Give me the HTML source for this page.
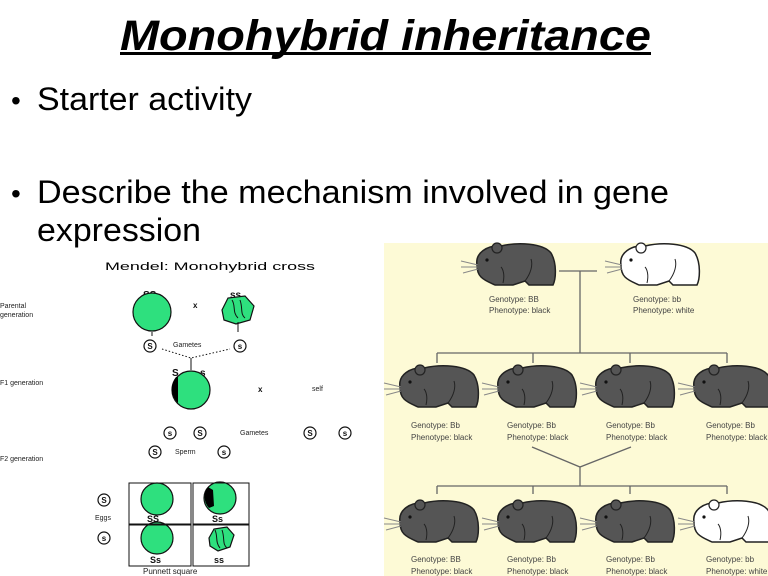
<!DOCTYPE html>
<html><head><meta charset="utf-8"><style>
html,body{margin:0;padding:0;background:#fff;}
svg{display:block;}
</style></head><body>
<svg width="768" height="576" viewBox="0 0 768 576" xmlns="http://www.w3.org/2000/svg" font-family="Liberation Sans, sans-serif">
<defs>
<g id="pig">
<path d="M4,22 C2,10 14,2 28,3 C45,-1 70,0 78,10 C84,20 83,36 80,42 L56,42 L52,38 L40,42 L22,42 C18,40 12,38 8,34 C5,31 4,27 4,22 Z" stroke="#222" stroke-width="1.5"/>
<circle cx="24" cy="5" r="5" stroke="#222" stroke-width="1.2"/>
<circle cx="14" cy="17" r="1.6" fill="#111"/>
<path d="M52,38 C58,30 60,22 58,16 M30,40 C32,32 30,26 28,24" stroke="#222" fill="none" stroke-width="1"/>
<path d="M5,22 L-12,18 M5,24 L-12,24 M5,26 L-10,30" stroke="#888" stroke-width="1" fill="none"/>
</g>
</defs>
<!-- Title -->
<text x="120" y="50" font-size="43" font-weight="bold" font-style="italic" font-family="Liberation Sans Narrow, Liberation Sans, sans-serif" textLength="531" lengthAdjust="spacingAndGlyphs">Monohybrid inheritance</text>
<rect x="120" y="52" width="531" height="3" fill="#000"/>
<text x="11" y="110" font-size="28">•</text>
<text x="37" y="110" font-size="32" font-family="Liberation Sans Narrow, Liberation Sans, sans-serif" textLength="215" lengthAdjust="spacingAndGlyphs">Starter activity</text>
<text x="11" y="203" font-size="28">•</text>
<text x="37" y="203" font-size="32" font-family="Liberation Sans Narrow, Liberation Sans, sans-serif" textLength="632" lengthAdjust="spacingAndGlyphs">Describe the mechanism involved in gene</text>
<text x="37" y="241" font-size="32" font-family="Liberation Sans Narrow, Liberation Sans, sans-serif" textLength="164" lengthAdjust="spacingAndGlyphs">expression</text>

<!-- Right panel -->
<rect x="384" y="243" width="384" height="333" fill="#fdfad6"/>
<g stroke="#666" stroke-width="1.3" fill="none">
<path d="M559,271 H597 M580,271 V353 M437,353 H727 M437,353 V363 M533,353 V363 M630,353 V363 M727,353 V363"/>
<path d="M532,447 L580,467 L631,447 M580,467 V486 M437,486 H727 M437,486 V494 M533,486 V494 M630,486 V494 M727,486 V494"/>
</g>
<g fill="#555">
<use href="#pig" transform="translate(473,243)"/>
<use href="#pig" transform="translate(396,365)"/>
<use href="#pig" transform="translate(494,365)"/>
<use href="#pig" transform="translate(592,365)"/>
<use href="#pig" transform="translate(690,365)"/>
<use href="#pig" transform="translate(396,500)"/>
<use href="#pig" transform="translate(494,500)"/>
<use href="#pig" transform="translate(592,500)"/>
</g>
<g fill="#fff">
<use href="#pig" transform="translate(617,243)"/>
<use href="#pig" transform="translate(690,500)"/>
</g>
<g font-size="8" fill="#444">
<text x="489" y="302">Genotype: BB</text><text x="489" y="313">Phenotype: black</text>
<text x="633" y="302">Genotype: bb</text><text x="633" y="313">Phenotype: white</text>
<text x="411" y="428">Genotype: Bb</text><text x="411" y="440">Phenotype: black</text>
<text x="507" y="428">Genotype: Bb</text><text x="507" y="440">Phenotype: black</text>
<text x="606" y="428">Genotype: Bb</text><text x="606" y="440">Phenotype: black</text>
<text x="706" y="428">Genotype: Bb</text><text x="706" y="440">Phenotype: black</text>
<text x="411" y="562">Genotype: BB</text><text x="411" y="574">Phenotype: black</text>
<text x="507" y="562">Genotype: Bb</text><text x="507" y="574">Phenotype: black</text>
<text x="606" y="562">Genotype: Bb</text><text x="606" y="574">Phenotype: black</text>
<text x="706" y="562">Genotype: bb</text><text x="706" y="574">Phenotype: white</text>
</g>

<!-- Left diagram -->
<text x="105" y="270" font-size="11" textLength="210" lengthAdjust="spacingAndGlyphs">Mendel: Monohybrid cross</text>
<g font-size="7" fill="#222">
<text x="0" y="308">Parental</text><text x="0" y="317">generation</text>
<text x="0" y="385">F1 generation</text>
<text x="0" y="461">F2 generation</text>
<text x="173" y="347">Gametes</text>
<text x="312" y="391">self</text>
<text x="240" y="435">Gametes</text>
<text x="175" y="454">Sperm</text>
<text x="95" y="520">Eggs</text>
<text x="143" y="574" font-size="8">Punnett square</text>
</g>
<g font-size="10" font-weight="bold" fill="#111">
<text x="143" y="298">SS</text><text x="230" y="298">ss</text>
<text x="193" y="308" font-size="8">x</text>
<text x="172" y="376">S</text><text x="200" y="376">s</text>
<text x="258" y="392" font-size="8">x</text>
<text x="147" y="522" font-size="9">SS</text><text x="212" y="522" font-size="9">Ss</text>
<text x="150" y="563" font-size="9">Ss</text><text x="214" y="563" font-size="9">ss</text>
</g>
<g fill="#2ee07e" stroke="#111" stroke-width="1.2">
<circle cx="152" cy="312" r="19"/>
<path d="M222,310 L228,298 L245,296 L254,306 L250,320 L236,324 L224,320 Z"/>
<circle cx="191" cy="390" r="19"/>
<circle cx="157" cy="499" r="16"/>
<circle cx="220" cy="498" r="16"/>
<circle cx="157" cy="538" r="16"/>
<path d="M209,538 L214,529 L227,527 L234,535 L230,547 L218,551 L210,546 Z"/>
</g>
<path d="M176,377 A19,19 0 0 0 178,403 L178,377 Z" fill="#000"/>
<path d="M208,487 A16,16 0 0 0 209,508 L214,506 L213,490 Z" fill="#000"/>
<path d="M232,300 C236,306 232,312 238,318 M240,300 C243,308 240,314 245,318" stroke="#111" fill="none"/>
<path d="M215,530 C218,536 215,542 220,548 M222,530 C225,538 222,544 227,548" stroke="#111" fill="none"/>
<g stroke="#111" stroke-width="1" fill="none">
<path d="M238,322 V332 M152,332 V336 M191,358 V370"/>
<path d="M162,349 L191,358 L230,349" stroke-dasharray="1.5,2"/>
<rect x="129" y="483" width="62" height="41"/>
<rect x="193" y="483" width="56" height="41"/>
<rect x="129" y="525" width="62" height="41"/>
<rect x="193" y="525" width="56" height="41"/>
</g>
<g fill="#fff" stroke="#111" stroke-width="1.2">
<circle cx="150" cy="346" r="6"/><circle cx="240" cy="346" r="6"/>
<circle cx="170" cy="433" r="6"/><circle cx="200" cy="433" r="6"/>
<circle cx="310" cy="433" r="6"/><circle cx="345" cy="433" r="6"/>
<circle cx="155" cy="452" r="6"/><circle cx="224" cy="452" r="6"/>
<circle cx="104" cy="500" r="6"/><circle cx="104" cy="538" r="6"/>
</g>
<g font-size="8" font-weight="bold" text-anchor="middle" fill="#111">
<text x="150" y="349">S</text><text x="240" y="349">s</text>
<text x="170" y="436">s</text><text x="200" y="436">S</text>
<text x="310" y="436">S</text><text x="345" y="436">s</text>
<text x="155" y="455">S</text><text x="224" y="455">s</text>
<text x="104" y="503">S</text><text x="104" y="541">s</text>
</g>
</svg>
</body></html>
